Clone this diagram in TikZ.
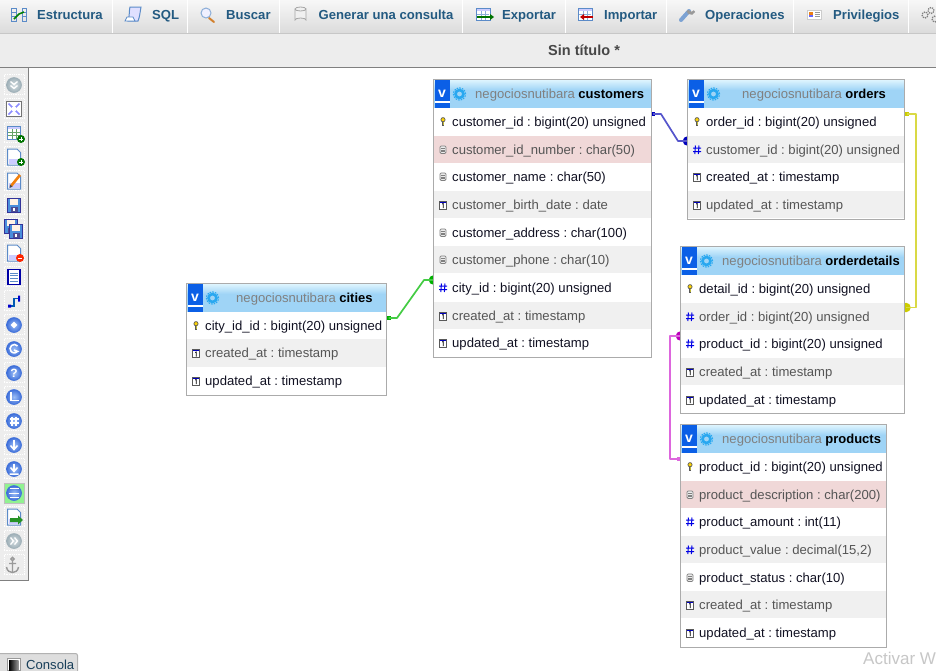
\documentclass[tikz,border=0pt]{standalone}
\usepackage{fontspec}
\setmainfont{Liberation Sans}
\usetikzlibrary{calc,shapes.geometric}
\frenchspacing
\definecolor{tabtxt}{HTML}{235A81}
\definecolor{rowink}{HTML}{111122}
\definecolor{rowinkb}{HTML}{555555}
\definecolor{bandg}{HTML}{F0F0F0}
\definecolor{bandp}{HTML}{F0D8D8}
\definecolor{hdrtop}{HTML}{DDF4FE}
\definecolor{hdrbot}{HTML}{9FD4F6}
\definecolor{vblue}{HTML}{0B5FE6}
\definecolor{gearblue}{HTML}{29A8F0}
\definecolor{ltgreen}{HTML}{44CC44}
\definecolor{dkgreen}{HTML}{00B000}
\definecolor{ltblue}{HTML}{5555CC}
\definecolor{dkblue}{HTML}{0000BB}
\definecolor{ltyel}{HTML}{D9D945}
\definecolor{dkyel}{HTML}{CCCC00}
\definecolor{ltmag}{HTML}{DD66DD}
\definecolor{dkmag}{HTML}{BB00BB}
\definecolor{icoin}{HTML}{9DBEF6}
\definecolor{icoout}{HTML}{3F70DA}
\definecolor{grayin}{HTML}{D5DEE2}
\definecolor{grayout}{HTML}{9FB0B8}
\definecolor{icoline}{HTML}{5B8BC8}
\definecolor{floppyblue}{HTML}{4A8EDC}
\tikzset{
  tabtext/.style={font=\fontsize{13.1}{15}\bfseries\selectfont,text=tabtxt,anchor=base west,inner sep=0pt},
  rowbg/.style={draw=none,minimum height=27.7pt,inner sep=0pt,anchor=west},
  rowtxt/.style={font=\fontsize{13.1}{15}\selectfont,anchor=base west,inner sep=0pt},
  tableframe/.style={draw=black!33,line width=1pt,fill=none,inner sep=0pt,outer sep=0pt,anchor=north west},
  startmark/.style={draw=none,rectangle,minimum size=4pt,inner sep=0pt},
  endmark/.style={draw=none,circle,minimum size=8.5pt,inner sep=0pt},
  link/.style={line width=1.7pt,line join=round},
  dotbox/.style={draw=white,densely dotted,line width=.8pt},
}
% ---------- field icons
\newcommand\ikey[2]{%
  \draw[black!65,fill=yellow!70!orange,line width=.7pt] (#1,#2-1.8) circle (2.1pt);
  \draw[black!65,line width=2.4pt] (#1,#2) -- (#1,#2+4.4);
  \draw[yellow!70!black,line width=1pt] (#1,#2) -- (#1,#2+3.8);}
\newcommand\inum[2]{%
  \draw[blue!90!black,line width=1pt] (#1-1.6,#2-4) -- (#1-2.2,#2+4.5) (#1+2,#2-4) -- (#1+1.4,#2+4.5)
    (#1-4,#2-1.4) -- (#1+4,#2-1.4) (#1-4,#2+2) -- (#1+4,#2+2);}
\newcommand\itime[2]{%
  \fill[white] (#1-3.5,#2-3.5) rectangle (#1+3.5,#2+4.5);
  \fill[blue!75!black] (#1-4,#2-4) rectangle (#1+4,#2-1.6);
  \draw[black!65,line width=.8pt] (#1-3.6,#2-3.6) rectangle (#1+3.6,#2+4.6);
  \draw[black,line width=.8pt] (#1-.8,#2-.6) -- (#1+.2,#2-1) -- (#1+.2,#2+3.6);}
\newcommand\ichar[2]{%
  \draw[black!50,fill=black!8,rounded corners=1.2pt,line width=.8pt] (#1-3,#2-3.6) rectangle (#1+3,#2+4);
  \draw[black!50,line width=.6pt] (#1-1.6,#2-1.6) -- (#1+1.6,#2-1.6) (#1-1.6,#2+.3) -- (#1+1.6,#2+.3) (#1-1.6,#2+2.2) -- (#1+1.6,#2+2.2);}
% ---------- table header and rows
\newcommand\tid{}\newcommand\txa{}\newcommand\txb{}\newcommand\tw{}\newcommand\ttxt{}\newcommand\tic{}
\newcommand\thead[7]{% id, x1, x2, ytop, ybot, titlex, title
  \renewcommand\tid{#1}\renewcommand\txa{#2}\renewcommand\txb{#3}
  \pgfmathsetmacro\tw{#3-#2}\pgfmathsetmacro\ttxt{#2+18}\pgfmathsetmacro\tic{#2+9}
  \xdef\tid{\tid}\xdef\txa{\txa}\xdef\txb{\txb}\xdef\tw{\tw}\xdef\ttxt{\ttxt}\xdef\tic{\tic}
  \fill[white] (#2,#4) rectangle (#3,#5);
  \shade[top color=hdrtop,bottom color=hdrbot] (#2,#4) rectangle (#3,#4+10);
  \fill[hdrbot] (#2,#4+10) rectangle (#3,#4+28);
  \fill[vblue] (#2+.5,#4) rectangle (#2+15.5,#4+20.5);
  \fill[white] (#2+.5,#4+20.5) rectangle (#2+15.5,#4+23);
  \fill[vblue] (#2+.5,#4+23) rectangle (#2+15.5,#4+28);
  \node[font=\fontsize{14}{15}\bfseries\selectfont,text=white,inner sep=0pt] (#1-v) at (#2+8,#4+14) {v};
  \draw[gearblue,line width=1pt,dashed,dash pattern=on 1.6pt off 1.1pt] (#2+25.5,#4+14) circle (6.1pt);
  \fill[gearblue] (#2+25.5,#4+14) circle (5.4pt);
  \fill[hdrbot] (#2+25.5,#4+14) circle (2.4pt);
  \node[rowtxt,text=black!50] (#1-schema) at (#6,#4+18) {negociosnutibara};
  \node[rowtxt,anchor=base west,text=black,font=\fontsize{13}{15}\bfseries\selectfont] (#1-title) at ($(#1-schema.base east)+(3pt,0)$) {#7};
}
\newcommand\trow[6]{% row id, y, band, ink, icon, text
  \node[rowbg,fill=#3,minimum width=\tw pt] (\tid-#1) at (\txa,#2) {};
  #5{\tic}{#2}
  \node[rowtxt,text=#4] (\tid-#1-label) at (\ttxt,#2+4.5) {#6};
}
\newcommand\rw[4]{\trow{#1}{#2}{white}{rowink}{#3}{#4}}
\newcommand\rg[4]{\trow{#1}{#2}{bandg}{rowinkb}{#3}{#4}}
\newcommand\rp[4]{\trow{#1}{#2}{bandp}{rowinkb}{#3}{#4}}
\newcommand\tframe[5]{% id x1 x2 ytop ybot
  \pgfmathsetmacro\fw{#3-#2+1}\pgfmathsetmacro\fh{#5-#4+1}
  \node[tableframe,minimum width=\fw pt,minimum height=\fh pt] (#1) at (#2-.8,#4-.8) {};}
% ---------- side icons
\newcommand\boxed[1]{\draw[dotbox] (4,#1-10.5) rectangle (24.5,#1+9.5);}
\newcommand\ball[1]{\shade[inner color=icoin,outer color=icoout,draw=icoout,line width=.6pt] (14,#1) circle (7.5pt);}
\newcommand\grayball[1]{\shade[inner color=grayin,outer color=grayout,draw=grayout,line width=.6pt] (14,#1) circle (7.5pt);}
\newcommand\page[1]{%
  \draw[icoline,fill=white,line width=1pt] (7.5,#1-8) -- (17,#1-8) -- (20.5,#1-4.5) -- (20.5,#1+8) -- (7.5,#1+8) -- cycle;
  \fill[blue!20] (8.5,#1+2) rectangle (19.5,#1+7);}
\newcommand\plusbadge[1]{%
  \fill[green!45!black] (21,#1+5) circle (4pt);
  \draw[white,line width=1pt] (18.8,#1+5) -- (23.2,#1+5) (21,#1+2.8) -- (21,#1+7.2);}
\newcommand\floppy[2]{%
  \fill[floppyblue,draw=blue!50!black!80!white,line width=.5pt] (#1-6.5,#2-7) rectangle (#1+6.5,#2+7);
  \fill[white!90!orange] (#1-4,#2-6.5) rectangle (#1+4,#2-.5);
  \fill[blue!40!black!70!white] (#1-3.5,#2+2) rectangle (#1+3.5,#2+7);
  \fill[white] (#1-1,#2+3) rectangle (#1+1,#2+6);}
\begin{document}
\begin{tikzpicture}[x=1pt,y=-1pt]
\useasboundingbox (0,0) rectangle (936,670);
\clip (0,0) rectangle (936,670);
\fill[white] (0,0) rectangle (936,670);
% ===== toolbar
\shade[top color=white!97!black,bottom color=black!14] (0,0) rectangle (936,33);
\fill[black!7] (0,34) rectangle (936,67);
\draw[black!22,line width=1pt] (0,33.5) -- (936,33.5);
\draw[black!50,line width=1pt] (0,67.5) -- (936,67.5);
\foreach \sx in {112,187,279,462,565,666,793,908}{\draw[white,line width=1pt] (\sx,0) -- (\sx,33);}
\node[tabtext] (tabEstructura) at (37,19) {Estructura};
\node[tabtext] (tabSQL) at (152,19) {SQL};
\node[tabtext] (tabBuscar) at (226,19) {Buscar};
\node[tabtext] (tabGenerar) at (318.5,19) {Generar una consulta};
\node[tabtext] (tabExportar) at (502,19) {Exportar};
\node[tabtext] (tabImportar) at (604,19) {Importar};
\node[tabtext] (tabOperaciones) at (705,19) {Operaciones};
\node[tabtext] (tabPrivilegios) at (833,19) {Privilegios};
\node[font=\fontsize{14.5}{17}\bfseries\selectfont,text=black!72,anchor=base west,inner sep=0pt] (pageTitle) at (548,55) {Sin título *};
% toolbar icons
\draw[icoline,line width=1pt] (11.5,8) rectangle (16,21) (22,8) rectangle (26.5,21) (11.5,12) -- (16,12) (11.5,16) -- (16,16) (22,12) -- (26.5,12) (22,16) -- (26.5,16);
\draw[green!50!black,line width=1.5pt] (14,19) -- (19,14) -- (24,12);
\draw[icoline,fill=blue!12,line width=1pt] (128,21) .. controls (130,14) and (129,10) .. (130,7) -- (141,7) .. controls (140,12) and (140,16) .. (138,21) -- cycle;
\draw[icoline,fill=white,line width=.8pt] (125,21) -- (135,21) -- (133,17) -- (127,17) -- cycle;
\draw[brown!70!orange,line width=2pt,line cap=round] (209,18) -- (214,22);
\draw[icoline!70,fill=blue!6,line width=1pt] (206,13) circle (5pt);
\draw[black!35,fill=black!6,line width=.8pt] (295,9) -- (295,20) arc[start angle=180,end angle=360,x radius=5.5,y radius=2] -- (306,9) arc[start angle=0,end angle=360,x radius=5.5,y radius=2];
\draw[icoline,fill=white,line width=.8pt] (476,8) rectangle (490,20);
\fill[blue!20] (476.5,8.5) rectangle (489.5,11);
\draw[icoline!70,line width=.6pt] (477,14) -- (489,14) (477,17) -- (489,17) (481,11) -- (481,20) (485.5,11) -- (485.5,20);
\draw[green!45!black,line width=1.6pt] (477,17) -- (490,17);
\fill[green!45!black] (490,14) -- (490,20) -- (494,17) -- cycle;
\draw[icoline,fill=white,line width=.8pt] (578,8) rectangle (592,20);
\fill[blue!20] (578.5,8.5) rectangle (591.5,11);
\draw[icoline!70,line width=.6pt] (579,14) -- (591,14) (583,11) -- (583,20) (587.5,11) -- (587.5,20);
\draw[red!75!black,line width=1.6pt] (584,17) -- (593,17);
\fill[red!75!black] (584,14) -- (584,20) -- (580,17) -- cycle;
\draw[icoline!80!white,line width=4pt,line cap=round] (681,20) -- (689,11);
\draw[black!40,line width=2.4pt] (687.5,10.5) arc[start angle=190,end angle=340,radius=3.6pt];
\draw[black!40,line width=2.2pt] (689,11.5) -- (693,13.5);
\draw[black!20,fill=white,line width=.8pt] (807,10) rectangle (821,19);
\fill[orange!70!brown] (809,12) rectangle (813,14.5);
\fill[blue!60] (809,14.5) rectangle (813,17);
\draw[black!40,line width=.6pt] (815,12.5) -- (819.5,12.5) (815,14.5) -- (819.5,14.5) (815,16.5) -- (819.5,16.5);
\draw[black!50,line width=1.3pt,densely dotted] (931,10.5) circle (3pt) (925,15) circle (3pt) (935,19) circle (3pt);
% ===== side panel
\fill[black!7] (0,68) rectangle (28,580);
\draw[black!50,line width=1pt] (28.5,68) -- (28.5,580.5) -- (0,580.5);
\foreach \yy in {85,109,133,157,181,205,229,253,277,301,325,349,373,397,421,445,469,517,541,565}{\boxed{\yy}}
\grayball{85}
\draw[white,line width=1.3pt] (10.5,81.5) -- (14,84.5) -- (17.5,81.5) (10.5,85.5) -- (14,88.5) -- (17.5,85.5);
\draw[black!55,fill=white,line width=1pt] (6.5,101.5) rectangle (21.5,116.5);
\draw[blue!45,line width=1.5pt] (8.5,103.5) -- (19.5,114.5) (19.5,103.5) -- (8.5,114.5);
\fill[white] (12,107) rectangle (16,111);
\draw[icoline,fill=white,line width=.8pt] (7.5,126) rectangle (20.5,139);
\fill[blue!20] (8,126.5) rectangle (20,129);
\draw[green!40!black!60!white,line width=.5pt] (8,132) -- (20,132) (8,135) -- (20,135) (12,129) -- (12,139) (16,129) -- (16,139);
\plusbadge{134}
\page{157}\plusbadge{157}
\page{181}
\draw[orange!80!brown,line width=2.6pt] (11,186) -- (20,175);
\fill[black!70] (9.5,188) -- (10,184.5) -- (12.5,186.5) -- cycle;
\floppy{14}{205}
\floppy{11}{226}
\floppy{16}{231}
\page{253}
\fill[red!70!orange] (20,258) circle (4pt);
\draw[white,line width=1pt] (17.8,258) -- (22.2,258);
\draw[blue!65!black,fill=white,line width=1.2pt] (8,269.5) rectangle (20,284.5);
\draw[icoline,line width=1pt] (10,273) -- (18,273) (10,275.7) -- (18,275.7) (10,278.4) -- (18,278.4) (10,281.1) -- (18,281.1);
\draw[blue!50!cyan!70!black,line width=1.2pt] (9.5,306) -- (14,306) -- (14,298.5) -- (18,298.5);
\fill[blue!80!black] (8,304.5) rectangle (11,307.5) (18,295.5) rectangle (20,301.5);
\ball{325}
\node[diamond,fill=white,minimum size=7pt,inner sep=0pt] (icoDiamond) at (14,325) {};
\ball{349}
\draw[white,line width=1.6pt] (17.5,346) arc[start angle=40,end angle=320,radius=4.2pt] -- (14,350);
\ball{373}
\node[font=\fontsize{12}{12}\bfseries\selectfont,text=white,inner sep=0pt] (icoHelp) at (14,373) {?};
\ball{397}
\draw[white,line width=1.4pt] (11,391.5) -- (11,400.5) -- (18.5,400.5);
\ball{421}
\draw[white,line width=1.1pt] (12,416.5) -- (12,425.5) (16,416.5) -- (16,425.5) (9.5,419) -- (18.5,419) (9.5,423) -- (18.5,423);
\ball{445}
\draw[white,line width=1.7pt] (14,439.5) -- (14,449);
\draw[white,line width=1.5pt] (10.5,445.5) -- (14,449.5) -- (17.5,445.5);
\ball{469}
\draw[white,line width=1.7pt] (14,463.5) -- (14,471);
\draw[white,line width=1.5pt] (10.5,467.5) -- (14,471.5) -- (17.5,467.5) (9.5,474) -- (18.5,474);
\fill[green!40!white!95!black,draw=black!25,line width=.8pt] (4,483) rectangle (24.5,503);
\ball{493}
\draw[white,line width=1pt] (9.5,488.5) -- (18.5,488.5) (9.5,497.5) -- (18.5,497.5) (9,493) -- (19,493);
\page{517}
\fill[green!50!black!85!white] (10,518) rectangle (18,522) (18,515.5) -- (18,524.5) -- (23,520) -- cycle;
\grayball{541}
\draw[white,line width=1.3pt] (10.5,537.5) -- (13.5,541) -- (10.5,544.5) (14.5,537.5) -- (17.5,541) -- (14.5,544.5);
\draw[black!40,line width=1.4pt] (12.5,559) circle (1.7pt) (12.5,561) -- (12.5,572) (9,563.5) -- (16,563.5);
\draw[black!40,line width=1.4pt] (6.5,567) .. controls (7,571) and (10,572.5) .. (12.5,572.5) .. controls (15,572.5) and (18,571) .. (18.5,567);
% ===== connectors and their end marks (the tables cover half of each dot)
\node[endmark,fill=dkgreen,minimum size=9.5pt] (cityEnd) at (433.5,280) {};
\node[startmark,fill=dkgreen] (cityStart) at (388.5,318) {};
\coordinate (cityA) at (397,318);
\coordinate (cityB) at (424,280);
\draw[link,ltgreen] (cityStart.center) -- (cityA) -- (cityB) -- (cityEnd.center);
\node[endmark,fill=dkblue,minimum size=9.5pt] (orderEnd) at (687.5,141) {};
\node[startmark,fill=dkblue] (orderStart) at (653,114) {};
\coordinate (orderA) at (661,114);
\coordinate (orderB) at (678,141);
\draw[link,ltblue] (orderStart.center) -- (orderA) -- (orderB) -- (orderEnd.center);
\node[startmark,fill=dkyel] (detailStart) at (906.5,114) {};
\node[endmark,fill=dkyel,minimum size=9.5pt] (detailEnd) at (906,307.5) {};
\coordinate (detailA) at (915.7,114);
\coordinate (detailB) at (915.7,307.5);
\draw[link,ltyel] (detailStart.center) -- (detailA) -- (detailB) -- (detailEnd.center);
\node[endmark,fill=dkmag,minimum size=9.5pt] (productEnd) at (680.5,336) {};
\node[startmark,draw=none,fill=ltmag] (productStart) at (679,459) {};
\coordinate (productA) at (670.3,459);
\coordinate (productB) at (670.3,336);
\draw[link,ltmag] (productStart.center) -- (productA) -- (productB) -- (productEnd.center);
% ===== cities
\thead{cities}{187}{386}{284}{395}{236}{cities}
\rw{r1}{325.5}{\ikey}{city\_id\_id : bigint(20) unsigned}
\rg{r2}{353}{\itime}{created\_at : timestamp}
\rw{r3}{380.5}{\itime}{updated\_at : timestamp}
\tframe{citiesBox}{187}{386}{284}{395}
% ===== customers
\thead{customers}{434}{651}{80}{357}{475}{customers}
\rw{r1}{121.5}{\ikey}{customer\_id : bigint(20) unsigned}
\rp{r2}{149.5}{\ichar}{customer\_id\_number : char(50)}
\rw{r3}{176.5}{\ichar}{customer\_name : char(50)}
\rg{r4}{204.5}{\itime}{customer\_birth\_date : date}
\rw{r5}{232.5}{\ichar}{customer\_address : char(100)}
\rg{r6}{259.5}{\ichar}{customer\_phone : char(10)}
\rw{r7}{287.5}{\inum}{city\_id : bigint(20) unsigned}
\rg{r8}{315.5}{\itime}{created\_at : timestamp}
\rw{r9}{342.5}{\itime}{updated\_at : timestamp}
\tframe{customersBox}{434}{651}{80}{357}
% ===== orders
\thead{orders}{688}{904}{80}{219}{742}{orders}
\rw{r1}{121.5}{\ikey}{order\_id : bigint(20) unsigned}
\rg{r2}{149.5}{\inum}{customer\_id : bigint(20) unsigned}
\rw{r3}{176.5}{\itime}{created\_at : timestamp}
\rg{r4}{204.5}{\itime}{updated\_at : timestamp}
\tframe{ordersBox}{688}{904}{80}{219}
% ===== orderdetails
\thead{orderdetails}{681}{904}{247}{413}{722}{orderdetails}
\rw{r1}{288.5}{\ikey}{detail\_id : bigint(20) unsigned}
\rg{r2}{316.5}{\inum}{order\_id : bigint(20) unsigned}
\rw{r3}{343.5}{\inum}{product\_id : bigint(20) unsigned}
\rg{r4}{371.5}{\itime}{created\_at : timestamp}
\rw{r5}{399.5}{\itime}{updated\_at : timestamp}
\tframe{orderdetailsBox}{681}{904}{247}{413}
% ===== products
\thead{products}{681}{886}{425}{647}{722}{products}
\rw{r1}{466.5}{\ikey}{product\_id : bigint(20) unsigned}
\rp{r2}{494.5}{\ichar}{product\_description : char(200)}
\rw{r3}{521.5}{\inum}{product\_amount : int(11)}
\rg{r4}{549.5}{\inum}{product\_value : decimal(15,2)}
\rw{r5}{577.5}{\ichar}{product\_status : char(10)}
\rg{r6}{604.5}{\itime}{created\_at : timestamp}
\rw{r7}{632.5}{\itime}{updated\_at : timestamp}
\tframe{productsBox}{681}{886}{425}{647}
% ===== console tab and watermark
\draw[black!30,fill=black!13,rounded corners=2pt,line width=1pt] (-2,672) -- (-2,653.5) -- (77.5,653.5) -- (77.5,672);
\draw[black!40,fill=white,line width=.8pt] (7.5,658) rectangle (20,670);
\shade[left color=black,right color=black!40] (9,660) rectangle (18.5,670);
\node[rowtxt,text=tabtxt!70!black] (consola) at (26,669) {Consola};
\node[font=\fontsize{17}{20}\selectfont,text=black!22,anchor=base west,inner sep=0pt] (watermark) at (863,664) {Activar W};
\end{tikzpicture}
\end{document}
